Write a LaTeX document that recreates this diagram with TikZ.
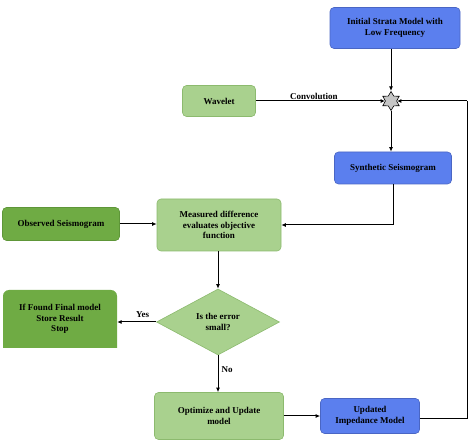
\documentclass[tikz,border=0pt]{standalone}
\usepackage{fontspec}
\setmainfont{Liberation Serif}
\usetikzlibrary{shapes.geometric,arrows.meta,backgrounds}
\definecolor{bluebox}{HTML}{5B7FEE}
\definecolor{blueline}{HTML}{4A66C4}
\definecolor{lgreen}{HTML}{A9D18E}
\definecolor{lgreenline}{HTML}{8CBA6E}
\definecolor{dgreen}{HTML}{6FAB44}
\definecolor{dgreenline}{HTML}{5E9638}
\begin{document}
\begin{tikzpicture}[x=1pt,y=-1pt,
  every node/.style={font=\fontsize{9}{10.5}\selectfont\bfseries, align=center},
  bbox/.style={rectangle, rounded corners=4pt, fill=bluebox, draw=blueline, line width=0.6pt, inner sep=0pt},
  gbox/.style={rectangle, rounded corners=4pt, fill=lgreen, draw=lgreenline, line width=0.6pt, inner sep=0pt},
  dbox/.style={rectangle, rounded corners=4pt, fill=dgreen, draw=dgreenline, line width=0.6pt, inner sep=0pt},
  conn/.style={line width=1pt, -{Latex[length=4.5pt,width=4pt]}},
  plain/.style={line width=1pt},
  lbl/.style={font=\fontsize{9}{10.5}\selectfont\bfseries, inner sep=1pt}
]
\useasboundingbox (0,0) rectangle (474,443);

\fill[dgreen] (3,348) [rounded corners=6pt] -- (3,290) -- (117,290) [sharp corners] -- (117,348) -- cycle;

\node[bbox, minimum width=130pt, minimum height=41pt] (init) at (395,28) {Initial Strata Model with\\Low Frequency};
\node[star, star points=6, star point ratio=1.7, minimum size=19pt, inner sep=0pt, fill=gray!45, draw=black, line width=0.6pt] (star) at (391,101) {};
\node[gbox, minimum width=73pt, minimum height=31pt] (wave) at (219,101) {Wavelet};
\node[bbox, minimum width=117pt, minimum height=32pt] (synth) at (393,168) {Synthetic Seismogram};
\node[dbox, minimum width=117pt, minimum height=33pt] (obs) at (61,224) {Observed Seismogram};
\node[gbox, minimum width=124pt, minimum height=52pt] (meas) at (219,225) {Measured difference\\evaluates objective\\function};
\node[diamond, aspect=1, minimum width=123pt, minimum height=66pt, inner sep=0pt, fill=lgreen, draw=lgreenline, line width=0.6pt] (dec) at (218,322) {Is the error\\small?};
\node[minimum width=114pt, minimum height=58pt, inner sep=0pt] (final) at (60,319) {If Found Final model\\Store Result\\Stop};
\node[gbox, minimum width=129pt, minimum height=47pt] (opt) at (219,416) {Optimize and Update\\model};
\node[bbox, minimum width=99pt, minimum height=35pt] (upd) at (370,416) {Updated\\Impedance Model};

\coordinate (fbR) at (467,419);
\coordinate (fbT) at (467,101);
\coordinate (synC) at (synth.south |- meas.east);

\draw[conn] (init.south -| star) -- (star);
\draw[conn] (wave.east) -- node[lbl, above, pos=0.45] {Convolution} (star);
\draw[conn] (star) -- (synth.north -| star);
\draw[plain] (synth.south) -- (synC);
\draw[conn] (synC) -- (meas.east);
\draw[conn] (obs.east) -- (obs.east -| meas.west);
\draw[conn] (meas.south -| dec.north) -- (dec.north);
\draw[conn] (dec.west) -- node[lbl, above, pos=0.35, yshift=3pt] {Yes} (dec.west -| final.east);
\draw[conn] (dec.south) -- node[lbl, right, pos=0.4, xshift=2pt] {No} (opt.north -| dec.south);
\draw[conn] (opt.east) -- (opt.east -| upd.west);
\draw[plain] (upd.east |- fbR) -- (fbR) -- (fbT);
\draw[conn] (fbT) -- (star);
\end{tikzpicture}
\end{document}
